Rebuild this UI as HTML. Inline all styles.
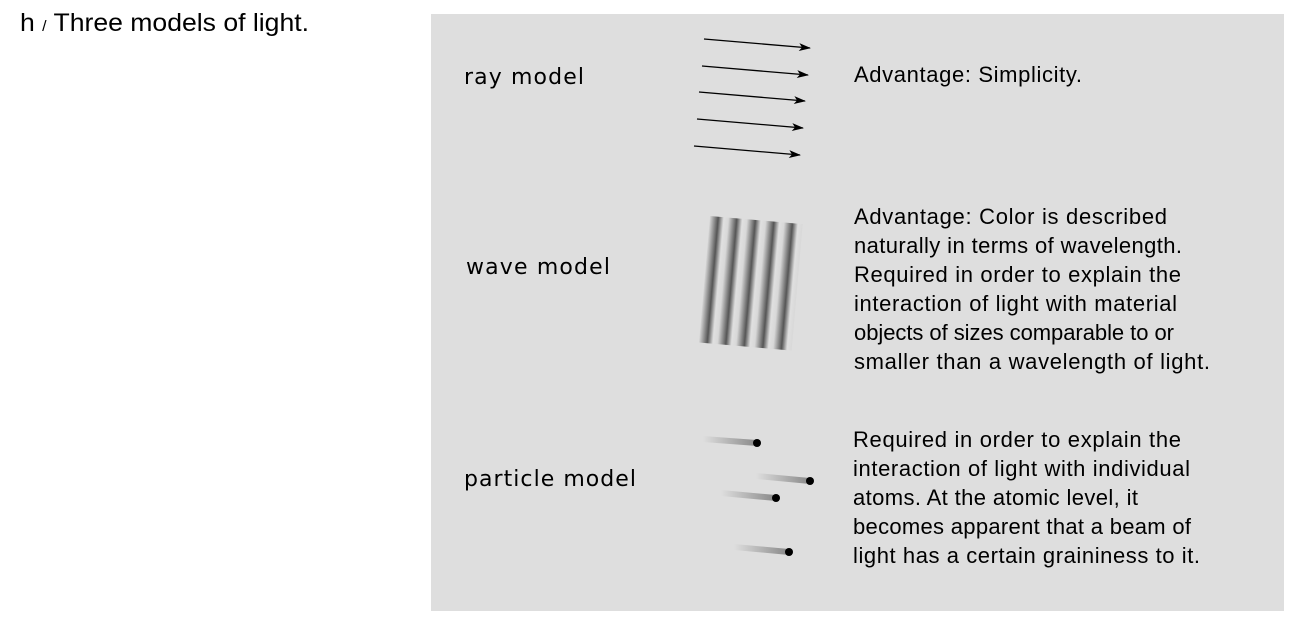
<!DOCTYPE html>
<html><head><meta charset="utf-8"><style>
html,body{margin:0;padding:0;background:#fff;width:1298px;height:628px;overflow:hidden}
</style></head><body>
<svg width="1298" height="628" viewBox="0 0 1298 628" xmlns="http://www.w3.org/2000/svg">
<defs>
<linearGradient id="wv" x1="0" y1="0" x2="0.2" y2="0" spreadMethod="repeat" gradientUnits="objectBoundingBox">
<stop offset="0" stop-color="#d8d8d8"/>
<stop offset="0.45" stop-color="#555"/>
<stop offset="0.75" stop-color="#e0e0e0"/>
<stop offset="1" stop-color="#d8d8d8"/>
</linearGradient>
<linearGradient id="tr" x1="0" y1="0" x2="1" y2="0">
<stop offset="0" stop-color="#dedede"/>
<stop offset="1" stop-color="#888"/>
</linearGradient>
<marker id="ah" markerWidth="12" markerHeight="8" refX="11" refY="4" orient="auto" markerUnits="userSpaceOnUse">
<path d="M0,0 L12,4 L0,8 L3,4 Z" fill="#000"/>
</marker>
</defs>
<text x="20" y="31" font-family="Liberation Sans, sans-serif" font-size="25" fill="#000" textLength="289" lengthAdjust="spacingAndGlyphs">h <tspan font-size="15">/</tspan> Three models of light.</text>
<rect x="431" y="14" width="853" height="597" fill="#dedede"/>
<g font-family="DejaVu Sans, sans-serif" font-size="22" fill="#000" lengthAdjust="spacingAndGlyphs">
<text x="464" y="84" textLength="120">ray model</text>
<text x="466" y="274" textLength="144">wave model</text>
<text x="464" y="486" textLength="172">particle model</text>
</g>
<g stroke="#000" stroke-width="1.3" marker-end="url(#ah)">
<line x1="704" y1="39" x2="810" y2="48"/>
<line x1="702" y1="66" x2="808" y2="75"/>
<line x1="699" y1="92" x2="805" y2="101"/>
<line x1="697" y1="119" x2="803" y2="128"/>
<line x1="694" y1="146" x2="800" y2="155"/>
</g>
<g transform="translate(710,216) rotate(5)">
<rect x="0" y="0" width="93" height="127" fill="url(#wv)"/>
</g>
<g>
<polygon points="703,436 757,440 757,446 703,442" fill="url(#tr)"/>
<circle cx="757" cy="443" r="4" fill="#000"/>
<polygon points="756,473 810,478 810,484 756,479" fill="url(#tr)"/>
<circle cx="810" cy="481" r="4" fill="#000"/>
<polygon points="721,490 776,495 776,501 721,496" fill="url(#tr)"/>
<circle cx="776" cy="498" r="4" fill="#000"/>
<polygon points="734,544 789,549 789,555 734,550" fill="url(#tr)"/>
<circle cx="789" cy="552" r="4" fill="#000"/>
</g>
<g font-family="Liberation Sans, sans-serif" font-size="22" fill="#000" lengthAdjust="spacingAndGlyphs">
<text x="854" y="82" textLength="228">Advantage: Simplicity.</text>
<text x="854" y="224" textLength="313">Advantage: Color is described</text>
<text x="854" y="253" textLength="328">naturally in terms of wavelength.</text>
<text x="854" y="282" textLength="327">Required in order to explain the</text>
<text x="854" y="311" textLength="323">interaction of light with material</text>
<text x="854" y="340" textLength="320">objects of sizes comparable to or</text>
<text x="854" y="369" textLength="356">smaller than a wavelength of light.</text>
<text x="853" y="447" textLength="328">Required in order to explain the</text>
<text x="853" y="476" textLength="337">interaction of light with individual</text>
<text x="853" y="505" textLength="285">atoms. At the atomic level, it</text>
<text x="853" y="534" textLength="338">becomes apparent that a beam of</text>
<text x="853" y="563" textLength="347">light has a certain graininess to it.</text>
</g>
</svg>
</body></html>
